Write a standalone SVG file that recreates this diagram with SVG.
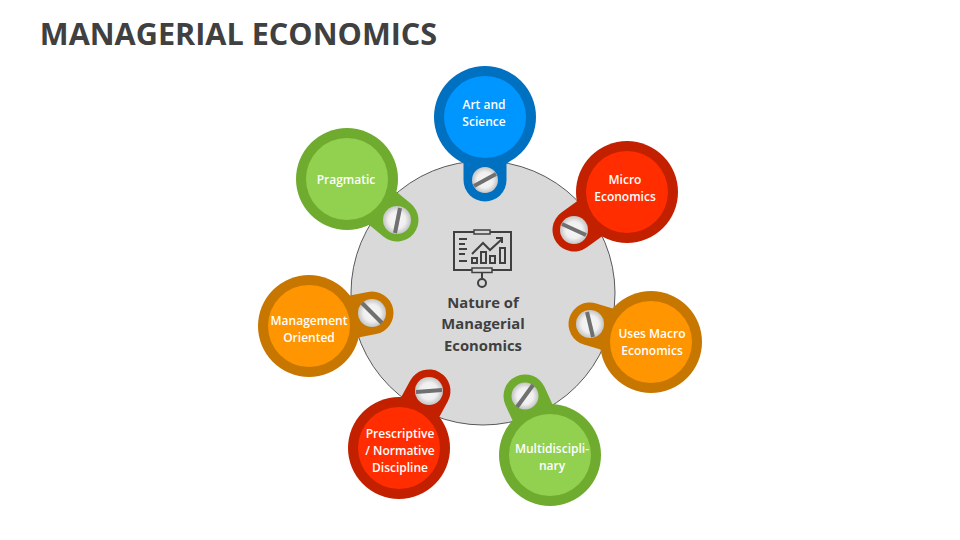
<svg xmlns="http://www.w3.org/2000/svg" width="960" height="540" viewBox="0 0 960 540">
<defs>
<radialGradient id="sg" cx="0.5" cy="0.5" r="0.5"><stop offset="0" stop-color="#f6f6f6"/><stop offset="0.6" stop-color="#f0f0f0"/><stop offset="1" stop-color="#c4c4c4"/></radialGradient>
</defs>
<style>
text{font-family:"Open Sans","Noto Sans","Liberation Sans",sans-serif;text-anchor:middle}
.l{font-size:12px;font-weight:600;fill:#fff}
.c{font-size:14.800px;font-weight:700;fill:#404040}
.s{fill:url(#sg)}
.sl{stroke:#707070;stroke-width:4;fill:none}
.tab{stroke-width:43;stroke-linecap:round;fill:none}
.ic{fill:none;stroke:#404040;stroke-width:2}
.blue{fill:#0070c0;stroke:#0070c0}.redd{fill:#c32000;stroke:#c32000}.ord{fill:#c77700;stroke:#c77700}.grd{fill:#6fab2f;stroke:#6fab2f}
circle.blue,circle.redd,circle.ord,circle.grd{stroke:none}
</style>
<rect width="960" height="540" fill="#fff"/>
<text id="title" x="238.500" y="45" style="font-size:30.600px;font-weight:700;fill:#404040">MANAGERIAL ECONOMICS</text>
<g id="hub">
<circle cx="483" cy="293" r="132" fill="#d9d9d9" stroke="#595959" stroke-width="1"/>
<g class="ic">
<rect x="454" y="232" width="57" height="38"/>
<rect x="474" y="230" width="16" height="4" fill="#d9d9d9" stroke-width="1.500"/>
<rect x="472" y="268" width="20" height="4.500" fill="#d9d9d9" stroke-width="1.500"/>
<path d="M482 273V278"/>
<circle cx="482" cy="283" r="4"/>
<path d="M459 239h8M459 244h6M459 249h8M459 254h6M459 261h8"/>
<path d="M472 254L483 243L490 250L502 239M496 238h6v5"/>
<rect x="472" y="258" width="5" height="5"/>
<rect x="481" y="252" width="5" height="11"/>
<rect x="490" y="256" width="5" height="7"/>
<rect x="500" y="248" width="5" height="15"/>
</g>
<text class="c" x="483" y="308">Nature of</text>
<text class="c" x="483" y="329">Managerial</text>
<text class="c" x="483" y="351">Economics</text>
</g>
<g id="art">
<path class="tab blue" d="M485 130V180"/><circle cx="485" cy="117" r="51" class="blue"/><circle cx="485" cy="117" r="41" fill="#0096ff"/>
<circle cx="485" cy="180" r="13" class="s"/><path class="sl" d="M474 186L496 174"/>
<text class="l" x="484" y="109">Art and</text><text class="l" x="484" y="126">Science</text>
</g>
<g id="micro">
<path class="tab redd" d="M617 199L574 230"/><circle cx="627" cy="192" r="51" class="redd"/><circle cx="627" cy="192" r="41" fill="#ff2d00"/>
<circle cx="574" cy="230" r="14" class="s"/><path class="sl" d="M562 224L586 235"/>
<text class="l" x="625" y="184">Micro</text><text class="l" x="625" y="201">Economics</text>
</g>
<g id="macro">
<path class="tab ord" d="M640 339L590 324"/><circle cx="651" cy="342" r="51" class="ord"/><circle cx="651" cy="342" r="41" fill="#ff9500"/>
<circle cx="590" cy="324" r="14" class="s"/><path class="sl" d="M587 312L593 337"/>
<text class="l" x="652" y="338">Uses Macro</text><text class="l" x="652" y="355">Economics</text>
</g>
<g id="multi">
<path class="tab grd" d="M545 440L525 396"/><circle cx="550" cy="455" r="51" class="grd"/><circle cx="550" cy="455" r="41" fill="#92d14f"/>
<circle cx="525" cy="396" r="13.500" class="s"/><path class="sl" d="M517 407L533 385"/>
<text class="l" x="552" y="453">Multidiscipli-</text><text class="l" x="552" y="470">nary</text>
</g>
<g id="prescriptive">
<path class="tab redd" d="M405 435L429 391"/><circle cx="399" cy="448" r="51" class="redd"/><circle cx="399" cy="448" r="41" fill="#ff2d00"/>
<circle cx="429" cy="391" r="14" class="s"/><path class="sl" d="M416 392L442 390"/>
<text class="l" x="400" y="438">Prescriptive</text><text class="l" x="400" y="455">/ Normative</text><text class="l" x="400" y="472">Discipline</text>
</g>
<g id="management">
<path class="tab ord" d="M321 323L372 313"/><circle cx="309" cy="326" r="51" class="ord"/><circle cx="309" cy="326" r="41" fill="#ff9500"/>
<circle cx="372" cy="313" r="14" class="s"/><path class="sl" d="M362 303L382 323"/>
<text class="l" x="309" y="325">Management</text><text class="l" x="309" y="342">Oriented</text>
</g>
<g id="pragmatic">
<path class="tab grd" d="M357 187L397 220"/><circle cx="347" cy="179" r="51" class="grd"/><circle cx="347" cy="179" r="41" fill="#92d14f"/>
<circle cx="397" cy="220" r="14" class="s"/><path class="sl" d="M400 208L395 233"/>
<text class="l" x="346" y="184">Pragmatic</text>
</g>
</svg>
